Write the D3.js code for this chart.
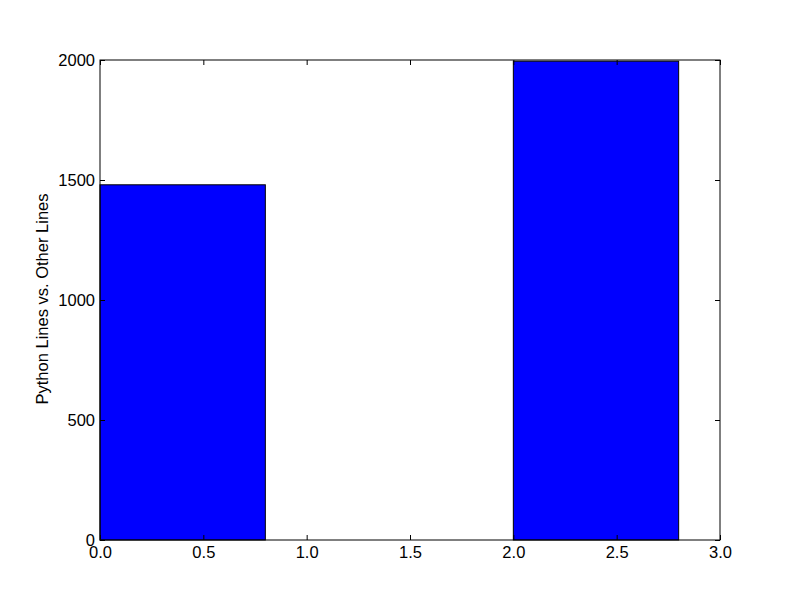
<!DOCTYPE html>
<html>
<head>
<meta charset="utf-8">
<script src="https://cdn.jsdelivr.net/npm/d3@7"></script>
<style>
  body { margin: 0; background: #fff; }
  svg text { font-family: "Liberation Sans", Arial, sans-serif; }
</style>
</head>
<body>
<div id="chart"></div>
<script>
(function(){
  // bar left edges and heights
  const barX = [0, 2];
  const barHeights = [1480, 1995];
  const barWidth = 0.8;
  const xTicks = [0, 0.5, 1, 1.5, 2, 2.5, 3];
  const yTicks = [0, 500, 1000, 1500, 2000];
  const yLabel = "Python Lines vs. Other Lines";

  const margin = {top: 60, right: 80, bottom: 60, left: 100};
  const width = 800 - margin.left - margin.right;
  const height = 600 - margin.top - margin.bottom;

  const svg = d3.select("#chart")
    .append("svg")
    .attr("width", 800)
    .attr("height", 600);

  const g = svg.append("g")
    .attr("transform", `translate(${margin.left},${margin.top})`);

  const x = d3.scaleLinear().domain([0, 3]).range([0, width]);
  const y = d3.scaleLinear().domain([0, 2000]).range([height, 0]);

  // bars
  g.selectAll("rect.bar")
    .data(barX.map((d, i) => ({x: d, h: barHeights[i]})))
    .enter()
    .append("rect")
    .attr("class", "bar")
    .attr("x", d => x(d.x))
    .attr("y", d => y(d.h))
    .attr("width", d => x(d.x + barWidth) - x(d.x))
    .attr("height", d => y(0) - y(d.h))
    .attr("fill", "#0000ff")
    .attr("stroke", "#000")
    .attr("stroke-width", 1);

  // axes, ticks pointing inward on all four sides
  const tl = 5;
  const bottom = g.append("g")
    .attr("transform", `translate(0,${height})`)
    .call(d3.axisBottom(x).tickValues(xTicks).tickFormat(d3.format(".1f")).tickSize(-tl).tickPadding(8));
  const top = g.append("g")
    .call(d3.axisTop(x).tickValues(xTicks).tickFormat("").tickSize(-tl));
  const left = g.append("g")
    .call(d3.axisLeft(y).tickValues(yTicks).tickFormat(d3.format("d")).tickSize(-tl).tickPadding(8));
  const right = g.append("g")
    .attr("transform", `translate(${width},0)`)
    .call(d3.axisRight(y).tickValues(yTicks).tickFormat("").tickSize(-tl));

  [bottom, top, left, right].forEach(a => {
    a.select(".domain").remove();
    a.selectAll("line").attr("stroke", "#000");
    a.selectAll("text").attr("fill", "#000").style("font-size", "16.5px");
  });
  bottom.selectAll("text").attr("dy", "0.71em").attr("y", 6);
  left.selectAll("text").attr("x", -5);

  // frame
  g.append("rect")
    .attr("x", 0).attr("y", 0)
    .attr("width", width).attr("height", height)
    .attr("fill", "none")
    .attr("stroke", "#000")
    .attr("stroke-width", 1);

  svg.append("text")
    .attr("transform", `translate(48,${margin.top + height / 2 - 1}) rotate(-90)`)
    .attr("text-anchor", "middle")
    .style("font-size", "16.5px")
    .text(yLabel);
})();
</script>
</body>
</html>
